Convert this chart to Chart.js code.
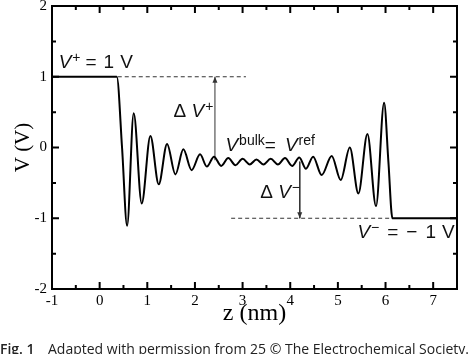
<!DOCTYPE html>
<html>
<head>
<meta charset="utf-8">
<script src="https://cdn.jsdelivr.net/npm/chart.js@4.4.0/dist/chart.umd.min.js"></script>
<style>
html, body { margin: 0; padding: 0; background: #fff; }
#wrap { position: relative; width: 474px; height: 354px; overflow: hidden; }
.cap { position: absolute; top: 339px; font-family: "Open Sans"; font-size: 14px; color: #222; white-space: nowrap; }
</style>
</head>
<body>
<div id="wrap">
<canvas id="graph1" width="474" height="354"></canvas>
<span class="cap" style="left:0;font-weight:600">Fig. 1</span>
<span class="cap" style="left:48px">Adapted with permission from 25 © The Electrochemical Society.</span>
</div>
<script>
// potencial ao longo do canal
const zVals = [-1.0, 0.36, 0.47, 0.576, 0.715, 0.883, 1.065, 1.24, 1.415, 1.59, 1.757, 1.93,
    2.107, 2.25, 2.40, 2.55, 2.70, 2.85, 3.00, 3.15, 3.29, 3.44, 3.59, 3.74, 3.89, 4.04,
    4.19, 4.33, 4.48, 4.66, 4.87, 5.06, 5.25, 5.43, 5.62, 5.80, 5.97, 6.06, 6.145, 7.5];
const vVals = [1.0, 1.0, 0.0, -1.106, 0.484, -0.79, 0.163, -0.52, 0.05, -0.38, -0.026, -0.32,
    -0.097, -0.27, -0.13, -0.26, -0.15, -0.25, -0.16, -0.24, -0.17, -0.24, -0.16, -0.24, -0.15, -0.26,
    -0.14, -0.30, -0.13, -0.39, -0.12, -0.46, 0.0, -0.65, 0.19, -0.83, 0.634, -0.2, -1.0, -1.0];

// linhas de referência tracejadas (V+ e V-)
const refLevels = [1, -1];
const dashUpperZ = [0.38, 3.07];
const dashLowerZ = [2.76, 6.15];

// setas delta V
const arrowZ = [2.42, 4.2];
const arrowFrom = [-0.18, -0.2];
const arrowTo = [1, -1];

// eixos
const xTicks = [-1, 0, 1, 2, 3, 4, 5, 6, 7];
const xLabels = ['-1', '0', '1', '2', '3', '4', '5', '6', '7'];
const xMinor = [-0.5, 0.5, 1.5, 2.5, 3.5, 4.5, 5.5, 6.5];
const yTicks = [-2, -1, 0, 1, 2];
const yLabels = ['-2', '-1', '0', '1', '2'];
const yMinor = [-1.5, -0.5, 0.5, 1.5];

const curve = zVals.map((z, i) => ({x: z, y: vVals[i]}));

// rótulos com sobrescrito (g = espaço em px)
const labels = [
    {z: -0.86, v: 1.125, parts: [{t: 'V', it: true}, {t: '+', sup: true}, {g: 5}, {t: '='}, {g: 7}, {t: '1'}, {g: 6}, {t: 'V'}]},
    {z: 1.55, v: 0.43, parts: [{t: 'Δ '}, {t: 'V', it: true}, {t: '+', sup: true}]},
    {z: 2.64, v: -0.045, parts: [{t: 'V', it: true}, {t: 'bulk', sup: true}, {t: '='}, {g: 9}, {t: 'V', it: true}, {t: 'ref', sup: true}]},
    {z: 3.37, v: -0.72, parts: [{t: 'Δ '}, {t: 'V', it: true}, {t: '−', sup: true}]},
    {z: 5.41, v: -1.285, parts: [{t: 'V', it: true}, {t: '−', sup: true}, {g: 8}, {t: '='}, {g: 8}, {t: '−'}, {g: 8}, {t: '1'}, {g: 6}, {t: 'V'}]},
];

const overlay = {
    id: 'overlay',
    afterDraw(chart) {
        const ctx = chart.ctx;
        const a = chart.chartArea;
        const x = chart.scales.x;
        const y = chart.scales.y;
        ctx.save();
        ctx.setLineDash([]);
        ctx.strokeStyle = '#000';
        ctx.lineWidth = 2;
        const segs = [];
        xTicks.forEach(v => segs.push([x.getPixelForValue(v), 7, true]));
        xMinor.forEach(v => segs.push([x.getPixelForValue(v), 4, true]));
        yTicks.forEach(v => segs.push([y.getPixelForValue(v), 7, false]));
        yMinor.forEach(v => segs.push([y.getPixelForValue(v), 4, false]));
        ctx.beginPath();
        segs.forEach(([p, len, horiz]) => {
            if (horiz) {
                ctx.moveTo(p, a.bottom); ctx.lineTo(p, a.bottom - len);
                ctx.moveTo(p, a.top); ctx.lineTo(p, a.top + len);
            } else {
                ctx.moveTo(a.left, p); ctx.lineTo(a.left + len, p);
                ctx.moveTo(a.right, p); ctx.lineTo(a.right - len, p);
            }
        });
        ctx.rect(a.left, a.top, a.right - a.left, a.bottom - a.top);
        ctx.stroke();

        // pontas das setas
        ctx.fillStyle = '#333';
        arrowZ.forEach((z, i) => {
            const px = x.getPixelForValue(z);
            const py = y.getPixelForValue(arrowTo[i]);
            const dir = arrowTo[i] > arrowFrom[i] ? 1 : -1;
            ctx.beginPath();
            ctx.moveTo(px, py);
            ctx.lineTo(px - 2.5, py + dir * 6);
            ctx.lineTo(px + 2.5, py + dir * 6);
            ctx.closePath();
            ctx.fill();
        });

        // textos
        ctx.fillStyle = '#111';
        ctx.textBaseline = 'alphabetic';
        ctx.textAlign = 'left';
        labels.forEach(l => {
            let px = x.getPixelForValue(l.z);
            const py = y.getPixelForValue(l.v);
            l.parts.forEach(p => {
                if (p.g) { px += p.g; return; }
                const s = p.sup ? 14 : 19;
                ctx.font = (p.it ? 'italic ' : '') + s + 'px "Liberation Sans"';
                ctx.fillText(p.t, px, p.sup ? py - 6 : py);
                px += ctx.measureText(p.t).width + (p.it ? 1 : 0);
            });
        });
        ctx.restore();
    }
};

const config = {
    type: 'line',
    data: {
        datasets: [
            {
                data: curve,
                borderColor: '#000',
                borderWidth: 2,
                pointRadius: 0,
                cubicInterpolationMode: 'monotone',
            },
            {
                data: dashUpperZ.map(z => ({x: z, y: refLevels[0]})),
                borderColor: '#333',
                borderWidth: 1,
                borderDash: [4, 3],
                pointRadius: 0,
            },
            {
                data: dashLowerZ.map(z => ({x: z, y: refLevels[1]})),
                borderColor: '#333',
                borderWidth: 1,
                borderDash: [4, 3],
                pointRadius: 0,
            },
            {
                data: [{x: arrowZ[0], y: arrowFrom[0]}, {x: arrowZ[0], y: arrowTo[0]}],
                borderColor: '#333',
                borderWidth: 1,
                pointRadius: 0,
            },
            {
                data: [{x: arrowZ[1], y: arrowFrom[1]}, {x: arrowZ[1], y: arrowTo[1]}],
                borderColor: '#333',
                borderWidth: 1,
                pointRadius: 0,
            },
        ]
    },
    options: {
        responsive: false,
        animation: false,
        layout: { padding: {top: 6, right: 17, left: 0, bottom: 0} },
        plugins: {
            legend: { display: false },
            tooltip: { enabled: false },
        },
        scales: {
            x: {
                type: 'linear',
                min: -1,
                max: 7.5,
                afterBuildTicks: s => { s.ticks = xTicks.map(v => ({value: v})); },
                afterFit: s => { s.height = 65; s.paddingLeft = 0; s.paddingRight = 0; },
                grid: { display: false, drawTicks: false },
                border: { display: false },
                ticks: {
                    padding: 3,
                    color: '#000',
                    font: { family: 'Liberation Serif', size: 15 },
                    callback: (v) => xLabels[xTicks.indexOf(v)],
                },
                title: {
                    display: true,
                    text: 'z (nm)',
                    color: '#000',
                    font: { family: 'Liberation Serif', size: 24 },
                    padding: { bottom: 26 },
                },
            },
            y: {
                min: -2,
                max: 2,
                afterBuildTicks: s => { s.ticks = yTicks.map(v => ({value: v})); },
                afterFit: s => { s.width = 52; s.paddingTop = 0; s.paddingBottom = 0; },
                grid: { display: false, drawTicks: false },
                border: { display: false },
                ticks: {
                    padding: 5,
                    color: '#000',
                    font: { family: 'Liberation Serif', size: 15 },
                    callback: (v) => yLabels[yTicks.indexOf(v)],
                },
                title: {
                    display: true,
                    text: 'V (V)',
                    color: '#000',
                    font: { family: 'Liberation Serif', size: 21 },
                    padding: { top: 11 },
                },
            }
        },
    },
    plugins: [overlay],
};

const chart = new Chart(document.getElementById('graph1'), config);
</script>
</body>
</html>
